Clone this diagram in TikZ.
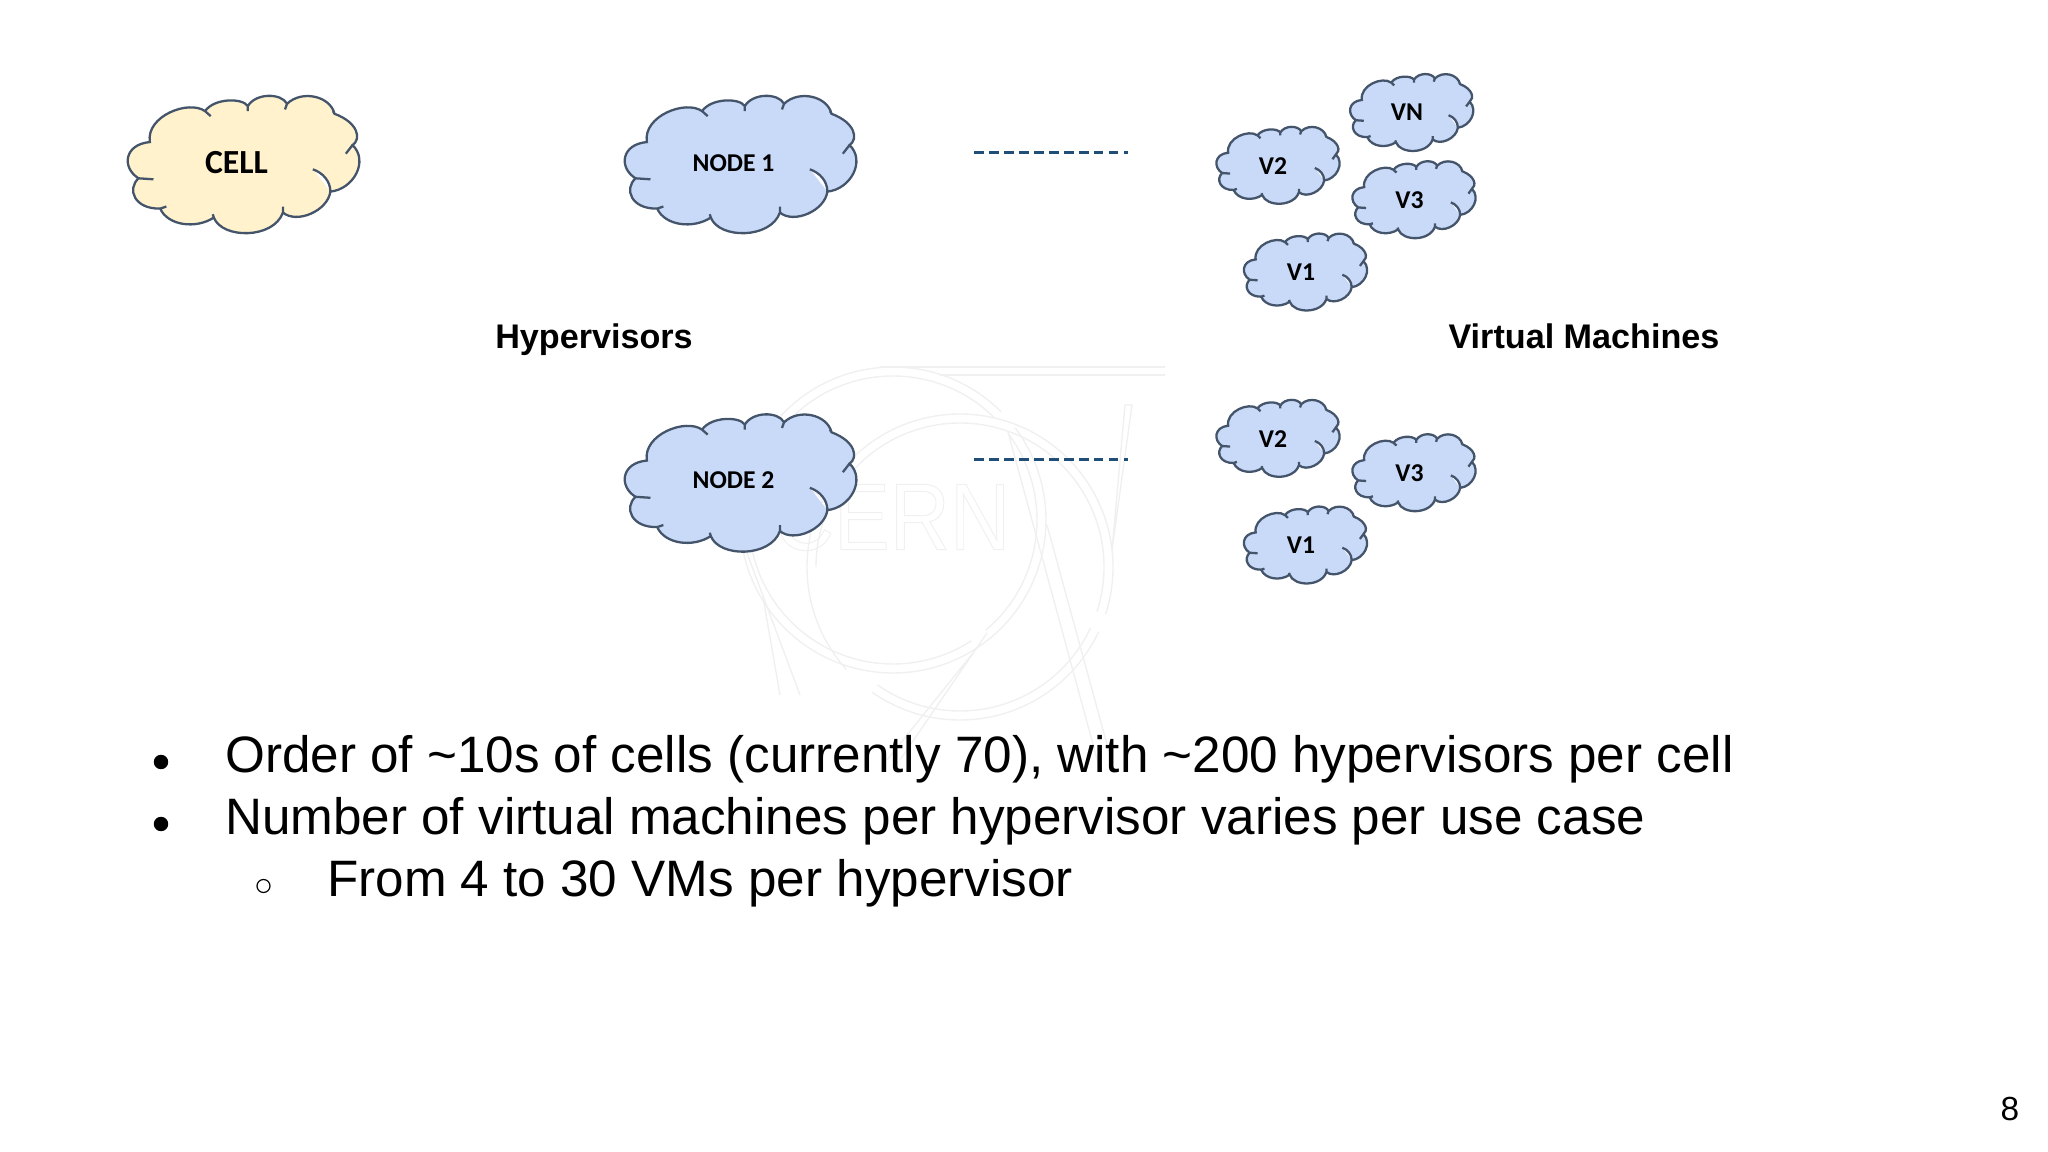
\documentclass[tikz,border=0pt]{standalone}
\usepackage{fontspec}
\setmainfont{Liberation Sans}
\newfontfamily\labelfont{Carlito}
\usetikzlibrary{positioning}

\definecolor{cellfill}{HTML}{FFF2CC}
\definecolor{nodefill}{HTML}{C9DAF8}
\definecolor{cloudline}{HTML}{44546A}
\definecolor{dashblue}{HTML}{1F4E79}
\definecolor{logoline}{HTML}{F0F0F0}

\tikzset{
    pics/cloudpic/.style={code={
        \draw[cloudline, line width=0.65pt, fill=#1, x=0.00515cm, y=-0.00333cm, shift={(-283.5,-310.5)}]
            (100,243) .. controls (92,165) and (175,115) .. (207,150)
            .. controls (225,110) and (280,110) .. (290,135)
            .. controls (305,95) and (355,95) .. (366,128)
            .. controls (395,85) and (450,105) .. (458,158)
            .. controls (505,185) and (510,235) .. (493,252)
            .. controls (525,300) and (495,385) .. (450,392)
            .. controls (445,450) and (385,490) .. (358,455)
            .. controls (340,535) and (240,535) .. (224,470)
            .. controls (190,505) and (135,495) .. (120,443)
            .. controls (70,445) and (55,385) .. (78,352)
            .. controls (45,320) and (50,250) .. (100,243) -- cycle
            (78,352) -- (107,355) (120,443) -- (132,437) (224,470) -- (222,460)
            (358,455) -- (358,437) (493,252) -- (480,278) (366,128) -- (362,145)
            (290,135) -- (290,150) (207,150) -- (218,165) (458,158) -- (455,150)
            (450,392) .. controls (450,360) and (435,335) .. (416,325);
    }},
    bigcloud/.style={xscale=1, yscale=1},
    smallcloud/.style={xscale=0.532, yscale=0.56},
    cloudtext/.style={font=\labelfont\bfseries\fontsize{7.3}{8}\selectfont, text=black, inner sep=0pt},
    headtext/.style={font=\bfseries\fontsize{9.72}{12}\selectfont, anchor=base, inner sep=0pt},
    listtext/.style={font=\fontsize{14.57}{17}\selectfont, anchor=base west, inner sep=0pt},
    bulletdot/.style={circle, fill=black, draw=black, minimum size=0.13cm, inner sep=0pt},
    bulletring/.style={circle, draw=black, line width=0.35pt, minimum size=0.13cm, inner sep=0pt},
    dashlink/.style={dashblue, line width=0.6pt, dash pattern=on 0.095cm off 0.055cm},
    logo/.style={logoline, line width=0.4pt}
}

\begin{document}
\begin{tikzpicture}
    \useasboundingbox (0,0) rectangle (20.48,-11.52);

    % Faint logo behind the diagram
    \draw[logo] (8.93,-5.20) ++(45:1.53) arc (45:303:1.53);
    \draw[logo] (8.93,-5.20) ++(45:1.44) arc (45:303:1.44);
    \draw[logo] (8.93,-5.20) ++(37:1.53) arc (37:-57:1.53);
    \draw[logo] (8.93,-5.20) ++(37:1.44) arc (37:-50:1.44);
    \draw[logo] (9.60,-5.67) ++(-125:1.53) arc (-125:-25:1.53);
    \draw[logo] (9.60,-5.67) ++(-125:1.44) arc (-125:-25:1.44);
    \draw[logo] (9.60,-5.67) ++(-18:1.53) arc (-18:180:1.53);
    \draw[logo] (9.60,-5.67) ++(-18:1.44) arc (-18:180:1.44);
    \draw[logo] (9.60,-5.67) ++(180:1.53) arc (180:222:1.53);
    \draw[logo] (8.80,-3.67) -- (11.65,-3.67) (9.40,-3.75) -- (11.65,-3.75);
    \draw[logo] (11.25,-4.05) -- (11.12,-5.50) -- (11.32,-4.05) -- cycle;
    \draw[logo] (10.08,-4.32) -- (11.00,-7.70) (10.47,-5.25) -- (11.14,-7.70);
    \draw[logo] (7.47,-5.53) -- (8.00,-6.95) (7.63,-5.97) -- (7.80,-6.95);
    \draw[logo] (9.77,-6.48) -- (8.87,-7.60) (9.87,-6.33) -- (9.00,-7.60);
    \node[inner sep=0pt, text=logoline, xscale=0.88, transform shape, font=\fontsize{27}{30}\selectfont] (logotext) at (8.92,-5.17)
        {\special{pdf:code 1 Tr 0.3 w}CERN\special{pdf:code 0 Tr}};

    % Clouds
    \pic[bigcloud] (cellcloud) at (2.445,-1.645) {cloudpic=cellfill};
    \pic[bigcloud] (nodeonecloud) at (7.415,-1.645) {cloudpic=nodefill};
    \pic[bigcloud] (nodetwocloud) at (7.415,-4.83) {cloudpic=nodefill};
    \pic[smallcloud] (vnupper) at (14.122,-1.125) {cloudpic=nodefill};
    \pic[smallcloud] (vtwoupper) at (12.785,-1.653) {cloudpic=nodefill};
    \pic[smallcloud] (vthreeupper) at (14.145,-1.997) {cloudpic=nodefill};
    \pic[smallcloud] (voneupper) at (13.06,-2.72) {cloudpic=nodefill};
    \pic[smallcloud] (vtwolower) at (12.785,-4.383) {cloudpic=nodefill};
    \pic[smallcloud] (vthreelower) at (14.145,-4.727) {cloudpic=nodefill};
    \pic[smallcloud] (vonelower) at (13.06,-5.45) {cloudpic=nodefill};

    % Cloud labels
    \node[cloudtext, font=\labelfont\bfseries\fontsize{9.6}{11}\selectfont] (cell) at (2.365,-1.63) {CELL};
    \node[cloudtext] (nodeone) at (7.335,-1.63) {NODE 1};
    \node[cloudtext] (nodetwo) at (7.335,-4.80) {NODE 2};
    \node[cloudtext] (vn) at (14.07,-1.125) {VN};
    \node[cloudtext] (vtwo) at (12.73,-1.66) {V2};
    \node[cloudtext] (vthree) at (14.095,-2.0) {V3};
    \node[cloudtext] (vone) at (13.01,-2.72) {V1};
    \node[cloudtext] (vtwob) at (12.73,-4.39) {V2};
    \node[cloudtext] (vthreeb) at (14.095,-4.73) {V3};
    \node[cloudtext] (voneb) at (13.01,-5.45) {V1};

    % Dashed links
    \coordinate (dashonea) at (9.74,-1.525);
    \coordinate (dashoneb) at (11.28,-1.525);
    \coordinate (dashtwoa) at (9.74,-4.595);
    \coordinate (dashtwob) at (11.28,-4.595);
    \draw[dashlink] (dashonea) -- (dashoneb);
    \draw[dashlink] (dashtwoa) -- (dashtwob);

    % Column headings
    \node[headtext] (hypervisors) at (5.94,-3.49) {Hypervisors};
    \node[headtext] (machines) at (15.84,-3.49) {Virtual Machines};

    % Bullet list
    \node[bulletdot] (dotone) at (1.61,-7.62) {};
    \node[bulletdot] (dottwo) at (1.61,-8.24) {};
    \node[bulletring] (ringone) at (2.635,-8.86) {};
    \node[listtext] (lineone) at (2.245,-7.725) {Order of \textasciitilde10s of cells (currently 70), with \textasciitilde200 hypervisors per cell};
    \node[listtext] (linetwo) at (2.245,-8.345) {Number of virtual machines per hypervisor varies per use case};
    \node[listtext] (linethree) at (3.265,-8.965) {From 4 to 30 VMs per hypervisor};

    % Page number
    \node[inner sep=0pt, font=\fontsize{9.5}{11}\selectfont] (pagenum) at (20.10,-11.09) {8};
\end{tikzpicture}
\end{document}
